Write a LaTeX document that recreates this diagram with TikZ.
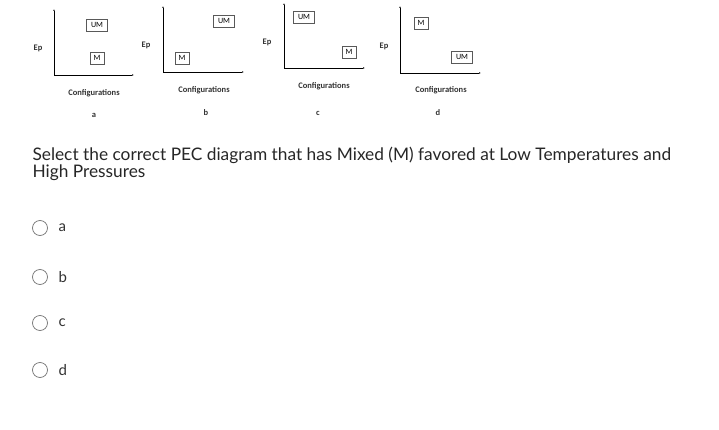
\documentclass[tikz,border=0pt]{standalone}
\usepackage{fontspec}
\setmainfont{Lato}
\newfontfamily\cfont{Carlito}
\usetikzlibrary{arrows.meta}
\begin{document}
\begin{tikzpicture}[x=1pt,y=-1pt,
  ax/.style={draw=black,line width=0.6pt,-{Latex[length=2pt]}},
  bx/.style={draw=gray!70!black,line width=0.6pt,fill=white,font=\cfont\fontsize{8}{9}\selectfont,minimum width=21pt,minimum height=12pt,inner sep=1pt},
  sm/.style={font=\cfont\bfseries\fontsize{8.5}{9}\selectfont,text=black!80},
  q/.style={font=\fontsize{17.3}{20}\selectfont,text=black!85,anchor=west},
  rb/.style={draw=black!55,line width=0.7pt,circle,minimum size=15pt,inner sep=0pt},
  opt/.style={font=\fontsize{15}{17}\selectfont,text=black!80,anchor=west}]
\useasboundingbox (0,0) rectangle (719,430);
% panel a
\coordinate (ao) at (54,75); \coordinate (ay) at (54,9); \coordinate (ax) at (134,75);
\draw[ax] (ao) -- (ay); \draw[ax] (ao) -- (ax);
\node[sm] (aep) at (38,48) {Ep};
\node[bx] (aum) at (97,25) {UM};
\node[bx,minimum width=14pt] (am) at (97,58) {M};
\node[sm] (acf) at (94,93) {Configurations};
\node[sm] (al) at (94,115) {a};
% panel b
\coordinate (bo) at (163,72); \coordinate (by) at (163,6); \coordinate (bx) at (244,72);
\draw[ax] (bo) -- (by); \draw[ax] (bo) -- (bx);
\node[sm] (bep) at (146,45) {Ep};
\node[bx] (bum) at (224,21) {UM};
\node[bx,minimum width=14pt] (bm) at (182,58) {M};
\node[sm] (bcf) at (204,90) {Configurations};
\node[sm] (bl) at (206,113) {b};
% panel c
\coordinate (co) at (284,68); \coordinate (cy) at (284,3); \coordinate (cx) at (365,68);
\draw[ax] (co) -- (cy); \draw[ax] (co) -- (cx);
\node[sm] (cep) at (267,42) {Ep};
\node[bx] (cum) at (304,17) {UM};
\node[bx,minimum width=14pt] (cm) at (349,52) {M};
\node[sm] (ccf) at (324,86) {Configurations};
\node[sm] (cl) at (318,113) {c};
% panel d
\coordinate (do) at (400,73); \coordinate (dy) at (400,6); \coordinate (dx) at (481,73);
\draw[ax] (do) -- (dy); \draw[ax] (do) -- (dx);
\node[sm] (dep) at (384,46) {Ep};
\node[bx,minimum width=14pt] (dm) at (421,23) {M};
\node[bx] (dum) at (462,57) {UM};
\node[sm] (dcf) at (441,90) {Configurations};
\node[sm] (dl) at (438,113) {d};
% question
\node[q] (q1) at (29,155) {Select the correct PEC diagram that has Mixed (M) favored at Low Temperatures and};
\node[q] (q2) at (29,173) {High Pressures};
\node[rb] (ra) at (40,228) {}; \node[opt] (la) at (55,228) {a};
\node[rb] (rbb) at (40,277) {}; \node[opt] (lb) at (55,277) {b};
\node[rb] (rc) at (40,323) {}; \node[opt] (lc) at (55,323) {c};
\node[rb] (rd) at (40,370) {}; \node[opt] (ld) at (55,370) {d};
\end{tikzpicture}
\end{document}
